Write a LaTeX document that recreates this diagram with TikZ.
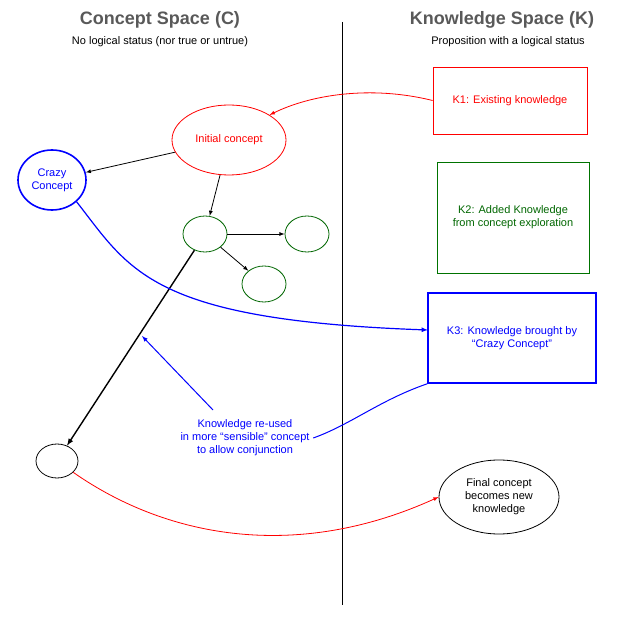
\documentclass[tikz,border=0pt]{standalone}
\usepackage{fontspec}
\setmainfont{Liberation Sans}
\usetikzlibrary{shapes.geometric}
\begin{document}
\begin{tikzpicture}[x=1pt,y=-1pt,line width=0.8pt,
  txt/.style={font=\fontsize{11}{13}\selectfont,align=center},
  ttl/.style={font=\fontsize{18}{21}\selectfont\bfseries,text=black!65},
  ell/.style={draw,ellipse,inner sep=0pt},
  box/.style={draw,rectangle,inner sep=0pt},
  arr/.style={-latex}]
\useasboundingbox (0,0) rectangle (619,617);
\node[ttl] (tc) at (160,20) {Concept Space (C)};
\node[txt] (sc) at (160,42) {No logical status (nor true or untrue)};
\node[ttl] (tk) at (502,20) {Knowledge Space (K)};
\node[txt] (sk) at (508,42) {Proposition with a logical status};
\coordinate (v1) at (342,22); \coordinate (v2) at (342,605);
\draw[line width=1pt] (v1) -- (v2);
\node[box,red,minimum width=154,minimum height=67,text=red,txt] (k1) at (510,100.5) {K1: Existing knowledge};
\node[box,draw=green!45!black,minimum width=152,minimum height=111,text=green!40!black,txt] (k2) at (513,217.5) {K2: Added Knowledge\\from concept exploration};
\node[box,draw=blue,line width=1.6pt,minimum width=168,minimum height=90,text=blue,txt] (k3) at (512,338) {K3: Knowledge brought by\\``Crazy Concept''};
\node[ell,draw=red,minimum width=114,minimum height=70,text=red,txt] (ic) at (229,140) {Initial concept};
\node[ell,draw=blue,line width=1.6pt,minimum width=68,minimum height=60,text=blue,txt] (cc) at (52,180) {Crazy\\Concept};
\node[ell,draw=green!40!black,minimum width=44,minimum height=36] (g1) at (205,234) {};
\node[ell,draw=green!40!black,minimum width=44,minimum height=36] (g2) at (307,234) {};
\node[ell,draw=green!40!black,minimum width=44,minimum height=36] (g3) at (264,284) {};
\node[ell,minimum width=42,minimum height=34] (b) at (57,461) {};
\node[ell,minimum width=120,minimum height=74,txt] (fc) at (499,497) {Final concept\\becomes new\\knowledge};
\node[txt,text=blue] (kr) at (245,438) {Knowledge re-used\\in more ``sensible'' concept\\to allow conjunction};
\coordinate (ap) at (142,336);
\coordinate (as) at (213,410);
\coordinate (k3w) at (428,330);
\draw[arr,red] (k1.west) .. controls (370,85) and (310,95) .. (ic.north east);
\draw[arr] (ic) -- (cc);
\draw[arr] (ic) -- (g1);
\draw[arr] (g1) -- (g2);
\draw[arr] (g1) -- (g3);
\draw[arr,line width=1.4pt] (g1) -- (b);
\draw[arr,blue,line width=1.2pt] (cc.south east) .. controls (130,270) and (150,320) .. (k3w);
\draw[arr,blue,line width=1pt] (as) -- (ap);
\draw[blue,line width=1pt] (k3.south west) .. controls (380,400) and (350,425) .. (kr.east);
\draw[arr,red] (b) .. controls (170,540) and (300,560) .. (fc.west);
\end{tikzpicture}
\end{document}
